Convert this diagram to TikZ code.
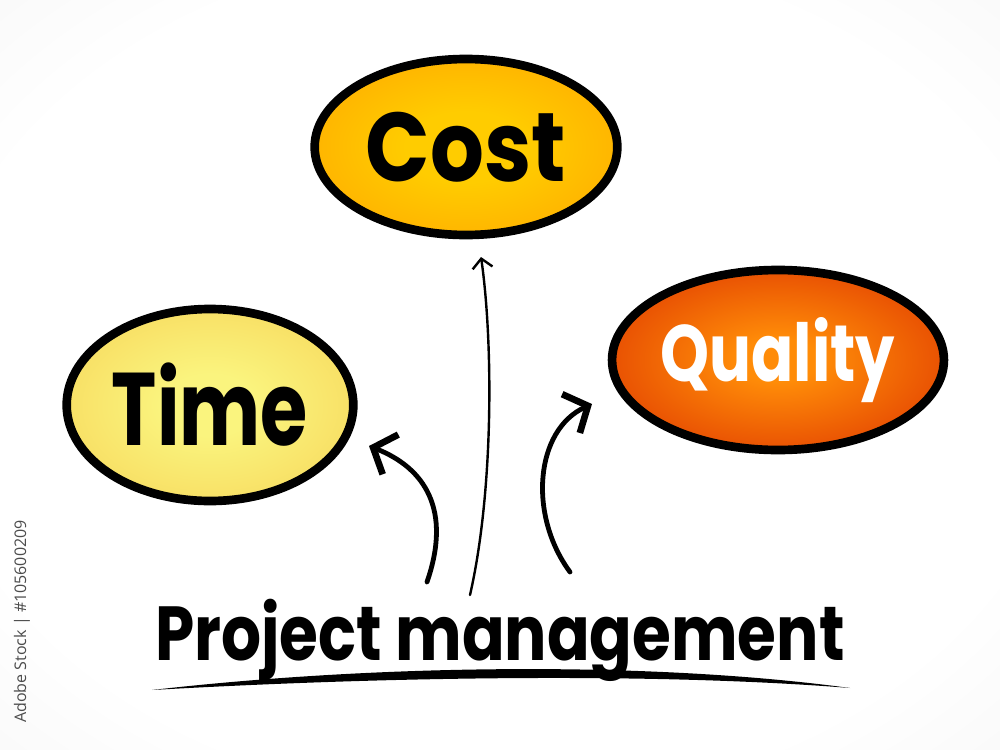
\documentclass[tikz,border=0pt]{standalone}
\usepackage{fontspec}
\setmainfont{Poppins}
\newfontfamily\wmfont{Open Sans}
\usetikzlibrary{shapes.geometric,arrows.meta}
\definecolor{costin}{HTML}{FFCC00}
\definecolor{costout}{HTML}{FF9800}
\definecolor{timein}{HTML}{FAF47E}
\definecolor{timeout}{HTML}{F6C848}
\definecolor{qualin}{HTML}{FF8C08}
\definecolor{qualout}{HTML}{DC3000}
\definecolor{bgout}{HTML}{E0E0E0}
\pgfdeclareradialshading{costshade}{\pgfpoint{0bp}{0bp}}{color(0bp)=(costin); color(10bp)=(costin); color(45bp)=(costout); color(100bp)=(costout)}
\pgfdeclareradialshading{timeshade}{\pgfpoint{0bp}{0bp}}{color(0bp)=(timein); color(8bp)=(timein); color(46bp)=(timeout); color(100bp)=(timeout)}
\pgfdeclareradialshading{qualshade}{\pgfpoint{0bp}{0bp}}{color(0bp)=(qualin); color(6bp)=(qualin); color(36bp)=(qualout); color(100bp)=(qualout)}
\pgfdeclareradialshading{bgshade}{\pgfpoint{0bp}{0bp}}{color(0bp)=(white); color(28bp)=(white); color(72bp)=(bgout); color(100bp)=(bgout)}
\begin{document}
\begin{tikzpicture}[x=0.75pt,y=-0.75pt,
  bubble/.style={ellipse, draw=black, line width=6.5pt, inner sep=0pt},
  lbl/.style={inner sep=0pt, font=\bfseries},
  thinarrow/.style={line width=1.8pt, line cap=round,
    -{Straight Barb[length=7pt,width=15pt,line width=1.8pt]}},
  thickarrow/.style={line width=3.6pt, line cap=round,
    -{Straight Barb[length=14pt,width=32pt,line width=5pt]}}
]
\useasboundingbox (0,0) rectangle (1000,750);
\shade[shading=bgshade] (0,0) rectangle (1000,750);

% bubbles
\node[bubble, minimum width=227pt, minimum height=132pt,
      shade, shading=costshade] (cost) at (466,147)
      {\resizebox{150pt}{52pt}{\bfseries Cost}};
\node[bubble, minimum width=215pt, minimum height=144pt,
      shade, shading=timeshade] (time) at (210,405)
      {\resizebox{147pt}{62pt}{\bfseries Time}};
\node[bubble, minimum width=233pt, minimum height=135pt,
      shade, shading=qualshade] (quality) at (778,360)
      {\textcolor{white}{\resizebox{176pt}{48pt}{\bfseries Quality}}};

% title
\node[lbl, anchor=base west] (pm) at (155,660)
      {\resizebox{517pt}{46pt}{\bfseries Project management}};

% underline
\coordinate (ulA) at (152,690);
\coordinate (ulB) at (850,688);
\fill[black] (ulA) .. controls (380,664) and (650,661) .. (ulB)
             .. controls (650,672) and (380,677) .. (ulA) -- cycle;

% connectors
\coordinate (c1s) at (470,595);
\coordinate (c1e) at (481,257);
\coordinate (c2s) at (427,582);
\coordinate (c2e) at (369,446);
\coordinate (c3s) at (570,572);
\coordinate (c3e) at (592,404);
\draw[thinarrow] (c1s) .. controls (494,490) and (493,340) .. (c1e);
\draw[thickarrow] (c2s) .. controls (452,510) and (425,468) .. (c2e);
\draw[thickarrow] (c3s) .. controls (528,515) and (535,430) .. (c3e);

% stock mark
\node[rotate=90, anchor=west, inner sep=0pt, text=black!70,
      font=\wmfont\fontsize{12}{14}\selectfont] (wm) at (22,723)
      {Adobe Stock | \#105600209};
\end{tikzpicture}
\end{document}
